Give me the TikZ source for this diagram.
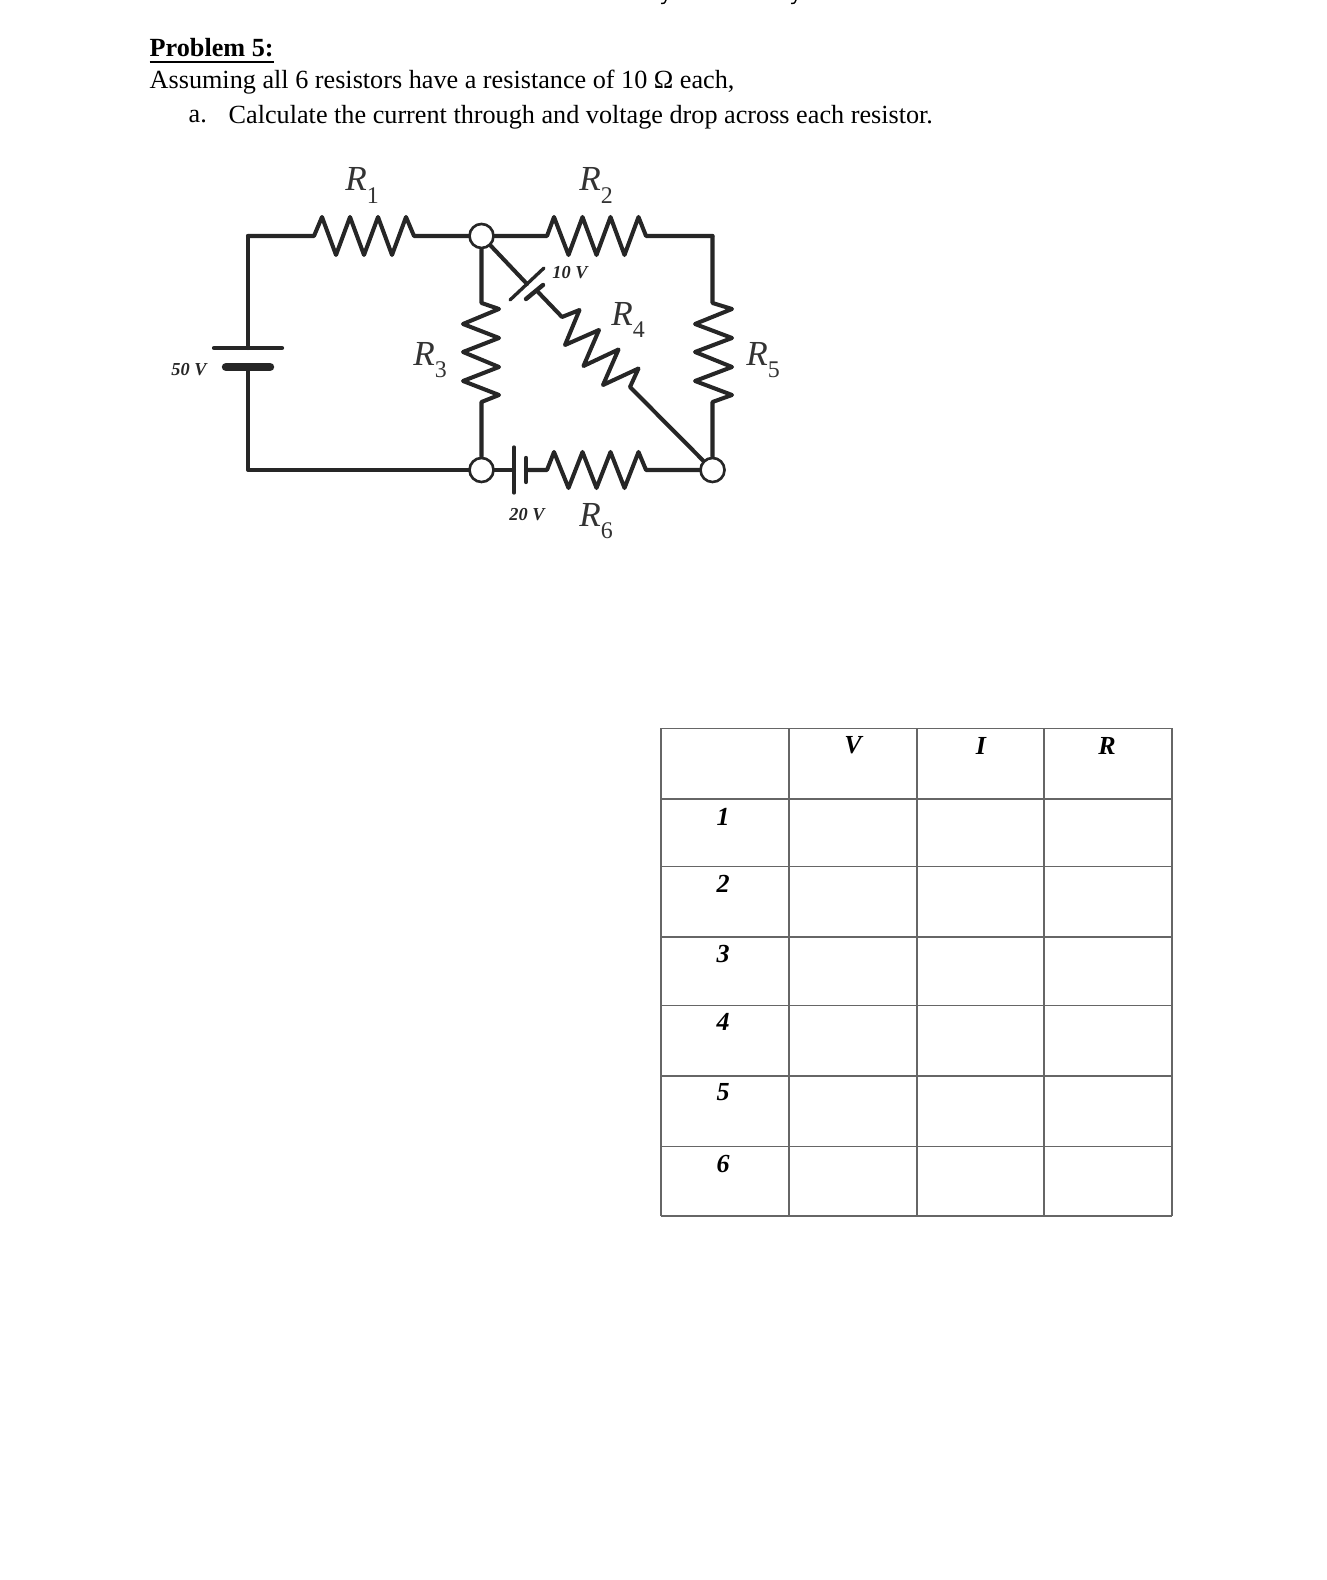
\documentclass[tikz,border=0pt]{standalone}
\usepackage{fontspec}
\setmainfont{Liberation Serif}
\newcommand{\resname}[1]{\textit{R}\raisebox{-0.36em}{\fontsize{6.8}{7}\selectfont #1}}
\tikzset{
  wire/.style={line width=1.15pt,color=black!85,line join=round,line cap=round},
  junction/.style={draw=black!85,line width=0.75pt,circle,fill=white,minimum size=0.24cm,inner sep=0pt},
  plate/.style={line width=0.95pt,color=black!85,line cap=round},
  fatplate/.style={line width=2.4pt,color=black!85,line cap=round},
  doctext/.style={font=\fontsize{7.45}{8}\selectfont,anchor=west,inner sep=0pt},
  resname/.style={font=\fontsize{10}{11}\selectfont,text=black!80,inner sep=0pt},
  voltname/.style={font=\fontsize{5.2}{6}\selectfont\bfseries\itshape,text=black!85,inner sep=0pt},
  celltext/.style={font=\fontsize{7.4}{8}\selectfont\bfseries\itshape,inner sep=0pt},
  grid/.style={line width=0.3pt,color=black!60},
  tailmark/.style={line width=0.4pt,color=black}
}
\begin{document}
\begin{tikzpicture}[x=0.01cm,y=-0.01cm]
\useasboundingbox (0,0) rectangle (1326,1580);

% text
\draw[tailmark] (666,0) .. controls (665,3) and (663,4.5) .. (661,3.5);
\draw[tailmark] (796,0) .. controls (795,3) and (793,4.5) .. (791,3.5);
\node[doctext] (title) at (149,51.5) {\textbf{\underline{Problem 5:}}};
\node[doctext] (assume) at (149,82) {Assuming all 6 resistors have a resistance of 10 Ω each,};
\node[doctext] (itema) at (188,117) {a.};
\node[doctext] (calc) at (228,117) {Calculate the current through and voltage drop across each resistor.};

% junctions and corners
\node[junction] (nw) at (481.5,236) {};
\node[junction] (sw) at (481.5,470) {};
\node[junction] (se) at (712.5,470) {};
\coordinate (cnw) at (248,236);
\coordinate (csw) at (248,470);
\coordinate (cne) at (712.5,236);

% outer wires with R1 and R2
\draw[wire] (cnw) -- (314,236) -- (322,217) -- (336,255) -- (350,217) -- (364,255) -- (378,217) -- (392,255) -- (406,217) -- (414,236) -- (nw);
\draw[wire] (nw) -- (547,236) -- (554,217) -- (568.5,255) -- (582.5,217) -- (596.5,255) -- (610.5,217) -- (624.5,255) -- (638.5,217) -- (646,236) -- (cne);

% vertical wires with R3 and R5
\draw[wire] (nw) -- (481.5,303) -- (499,309) -- (463,324) -- (499,338) -- (463,352) -- (499,367) -- (463,381) -- (499,395) -- (481.5,402) -- (sw);
\draw[wire] (cne) -- (712.5,303) -- (732,309) -- (695,324) -- (732,338) -- (695,352) -- (732,367) -- (695,381) -- (732,395) -- (712.5,402) -- (se);

% 50 V cell
\coordinate (bat1) at (248,348);
\coordinate (bat2) at (248,367);
\draw[wire] (cnw) -- (bat1);
\draw[wire] (bat2) -- (csw) -- (sw);
\draw[plate,line width=1.2pt] (214,348) -- (282,348);
\draw[fatplate] (226,367) -- (270,367);

% 10 V cell and R4
\coordinate (cell1) at (527,284);
\coordinate (cell2) at (538,292);
\draw[wire] (nw) -- (cell1);
\draw[plate] (510,300) -- (544,268);
\draw[plate,line width=1.25pt] (526,299) -- (543,285);
\draw[wire] (cell2) -- (562,317) -- (579.5,310) -- (565,345) -- (599,330) -- (583.5,366) -- (618.5,349.5) -- (603,385) -- (638.5,368.5) -- (630,387) -- (se);

% 20 V cell and R6
\coordinate (cell3) at (514,470);
\coordinate (cell4) at (526,470);
\draw[wire] (sw) -- (cell3);
\draw[plate] (514,447) -- (514,493);
\draw[plate,line width=1.25pt] (526,458) -- (526,482);
\draw[wire] (cell4) -- (547,470) -- (554,452) -- (568.5,488) -- (582.5,452) -- (596.5,488) -- (610.5,452) -- (624.5,488) -- (638.5,452) -- (646,470) -- (se);

% circuit labels
\node[resname] (r1) at (362,185.5) {\resname{1}};
\node[resname] (r2) at (596,185.5) {\resname{2}};
\node[resname] (r3) at (430,360) {\resname{3}};
\node[resname] (r4) at (628,320) {\resname{4}};
\node[resname] (r5) at (763,360) {\resname{5}};
\node[resname] (r6) at (596,521) {\resname{6}};
\node[voltname] (v50) at (189,370) {50 V};
\node[voltname] (v10) at (570,273) {10 V};
\node[voltname] (v20) at (527,515) {20 V};

% table
\draw[grid] (661,728.5) -- (1172,728.5);
\draw[grid] (661,799) -- (1172,799);
\draw[grid] (661,866.5) -- (1172,866.5);
\draw[grid] (661,937) -- (1172,937);
\draw[grid] (661,1005.5) -- (1172,1005.5);
\draw[grid] (661,1076) -- (1172,1076);
\draw[grid] (661,1146.5) -- (1172,1146.5);
\draw[grid] (661,1216) -- (1172,1216);
\draw[grid] (661,728.5) -- (661,1216);
\draw[grid] (789,728.5) -- (789,1216);
\draw[grid] (917,728.5) -- (917,1216);
\draw[grid] (1044,728.5) -- (1044,1216);
\draw[grid] (1172,728.5) -- (1172,1216);

\node[celltext] (headv) at (853,745.5) {V};
\node[celltext] (headi) at (981,745.5) {I};
\node[celltext] (headr) at (1107,745.5) {R};
\node[celltext] (row1) at (723,817) {1};
\node[celltext] (row2) at (723,884) {2};
\node[celltext] (row3) at (723,954) {3};
\node[celltext] (row4) at (723,1022) {4};
\node[celltext] (row5) at (723,1092) {5};
\node[celltext] (row6) at (723,1164) {6};

\end{tikzpicture}
\end{document}
